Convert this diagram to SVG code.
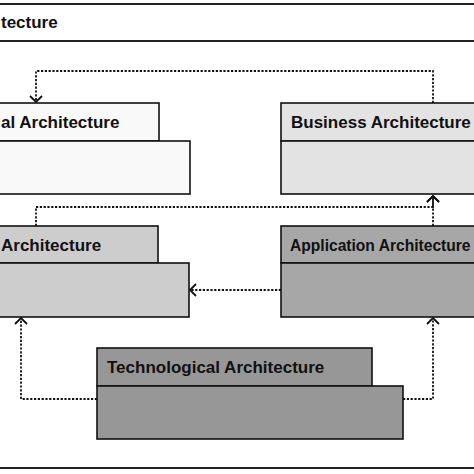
<svg xmlns="http://www.w3.org/2000/svg" width="474" height="474" viewBox="0 0 474 474">
<style>
.frame{fill:none;stroke:#222;stroke-width:2}
.box{stroke:#111;stroke-width:1.6}
.lbl{font-family:"Liberation Sans",Arial,sans-serif;font-weight:bold;font-size:17px;fill:#111}
.conn{fill:none;stroke:#111;stroke-width:1.8;stroke-dasharray:2.2 1.6}
</style>
<defs>
<marker id="arr" markerUnits="userSpaceOnUse" markerWidth="16" markerHeight="16" viewBox="-8 -8 16 16" refX="0" refY="0" orient="auto">
<path d="M-6,-6 L0,0 L-6,6" fill="none" stroke="#111" stroke-width="1.8"/>
</marker>
</defs>
<rect width="474" height="474" fill="#fff"/>
<g id="frame">
<rect class="frame" x="-10" y="4" width="494" height="464"/>
<line class="frame" x1="-10" y1="41" x2="484" y2="41"/>
<text class="lbl" x="1" y="28">tecture</text>
</g>
<g id="connectors">
<path class="conn" d="M433,103 V71 H36 V102" marker-end="url(#arr)"/>
<path class="conn" d="M36,226 V207 H433 V196" marker-end="url(#arr)"/>
<path class="conn" d="M433,226 V196" marker-end="url(#arr)"/>
<path class="conn" d="M281,290 H190" marker-end="url(#arr)"/>
<path class="conn" d="M97,399 H21 V318" marker-end="url(#arr)"/>
<path class="conn" d="M403,399 H433 V318" marker-end="url(#arr)"/>
</g>
<g id="node-topleft">
<rect class="box" x="-10" y="103" width="169" height="38" fill="#f9f9f9"/>
<rect class="box" x="-10" y="141" width="200" height="53" fill="#f9f9f9"/>
<text class="lbl" x="1" y="128">al Architecture</text>
</g>
<g id="node-business">
<rect class="box" x="281" y="103" width="210" height="38" fill="#e3e3e3"/>
<rect class="box" x="281" y="141" width="210" height="53" fill="#e3e3e3"/>
<text class="lbl" x="291" y="128">Business Architecture</text>
</g>
<g id="node-midleft">
<rect class="box" x="-10" y="226" width="168" height="37" fill="#cdcdcd"/>
<rect class="box" x="-10" y="263" width="199" height="54" fill="#cdcdcd"/>
<text class="lbl" x="1" y="251">Architecture</text>
</g>
<g id="node-application">
<rect class="box" x="281" y="226" width="210" height="37" fill="#a7a7a7"/>
<rect class="box" x="281" y="263" width="210" height="54" fill="#a7a7a7"/>
<text class="lbl" x="290" y="251" style="font-size:15.6px">Application Architecture</text>
</g>
<g id="node-technological">
<rect class="box" x="97" y="348" width="275" height="38" fill="#979797"/>
<rect class="box" x="97" y="386" width="306" height="53" fill="#979797"/>
<text class="lbl" x="107" y="373">Technological Architecture</text>
</g>
</svg>
